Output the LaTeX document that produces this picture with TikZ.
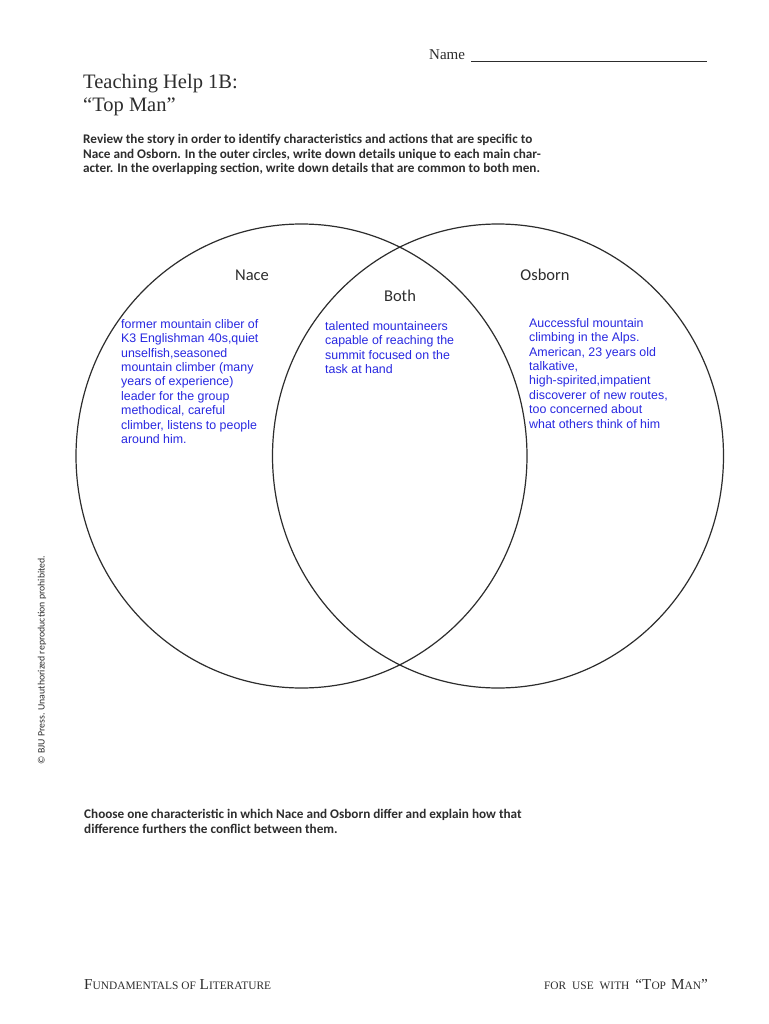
\documentclass[tikz,border=0pt]{standalone}
\usepackage{fontspec}
\setmainfont{Liberation Serif}
\newfontfamily\headsans{Carlito}
\newfontfamily\handfont{Liberation Sans}
\usetikzlibrary{shapes.geometric}
\definecolor{pen}{RGB}{40,40,225}
\definecolor{ink}{RGB}{45,45,45}
\newcommand{\smc}[1]{{\fontsize{11.4}{12}\selectfont\MakeUppercase{#1}}}
\tikzset{
  ring/.style={
    ellipse,
    draw=ink,
    line width=1.2pt,
    inner sep=0pt,
    minimum width=451pt,
    minimum height=464pt
  },
  instr/.style={
    anchor=north west,
    inner sep=0pt,
    align=left,
    font=\headsans\bfseries\fontsize{13.2}{14.6}\selectfont,
    text=ink
  },
  circle label/.style={
    font=\headsans\fontsize{16.5}{18}\selectfont,
    text=ink,
    inner sep=0pt
  },
  notes/.style={
    anchor=north west,
    inner sep=0pt,
    align=left,
    text=pen,
    font=\handfont\fontsize{12.4}{14.45}\selectfont
  },
  footer/.style={
    anchor=base,
    inner sep=0pt,
    text=ink,
    font=\fontsize{15.2}{16}\selectfont
  }
}
\begin{document}
\begin{tikzpicture}[x=1pt, y=-1pt]
    \useasboundingbox[fill=white] (0,0) rectangle (768,1024);

    % kopf: name und titel
    \node[anchor=base west, inner sep=0pt, text=ink, font=\fontsize{15}{17}\selectfont] (name) at (429,60) {Name};
    \coordinate (name end) at (707,61);
    \draw[ink, line width=0.9pt] ([xshift=6pt]name.east |- name end) -- (name end);
    \node[anchor=base west, inner sep=0pt, text=ink, font=\fontsize{20.5}{24}\selectfont] (title) at (83,89) {Teaching Help 1B:};
    \node[anchor=base west, inner sep=0pt, text=ink, font=\fontsize{20.5}{24}\selectfont] (story) at (83,112) {“Top Man”};

    % aufgabe oben
    \node[instr] (task) at (83,134) {Review the story in order to identify characteristics and actions that are specific to\\
      Nace and Osborn. In the outer circles, write down details unique to each main char-\\
      acter. In the overlapping section, write down details that are common to both men.};

    % venn-diagramm
    \node[ring] (nace ring) at (301.5,456) {};
    \node[ring] (osborn ring) at (498,456) {};
    \node[circle label] (nace) at (252,275) {Nace};
    \node[circle label] (both) at (400,296) {Both};
    \node[circle label] (osborn) at (545,275) {Osborn};

    % handschriftliche notizen
    \node[notes] (nace notes) at (121,319) {former mountain cliber of\\
      K3 Englishman 40s,quiet\\
      unselfish,seasoned\\
      mountain climber (many\\
      years of experience)\\
      leader for the group\\
      methodical, careful\\
      climber, listens to people\\
      around him.};
    \node[notes] (both notes) at (325,321) {talented mountaineers\\
      capable of reaching the\\
      summit focused on the\\
      task at hand};
    \node[notes] (osborn notes) at (529,318) {Auccessful mountain\\
      climbing in the Alps.\\
      American, 23 years old\\
      talkative,\\
      high-spirited,impatient\\
      discoverer of new routes,\\
      too concerned about\\
      what others think of him};

    % copyright am rand
    \node[rotate=90, inner sep=0pt, text=ink, font=\headsans\fontsize{9.8}{11}\selectfont] (copy) at (42,660) {© BJU Press. Unauthorized reproduction prohibited.};

    % aufgabe unten
    \node[instr] (question) at (84,809) {Choose one characteristic in which Nace and Osborn differ and explain how that\\
      difference furthers the conflict between them.};

    % fusszeile
    \node[footer, anchor=base west] (book) at (84,989) {F\smc{undamentals of} L\smc{iterature}};
    \node[footer, anchor=base east] (use) at (708,989) {\smc{for}\hspace{6pt}\smc{use}\hspace{6pt}\smc{with}\hspace{6pt}“T\smc{op}\hspace{5pt}M\smc{an}”};
\end{tikzpicture}
\end{document}
